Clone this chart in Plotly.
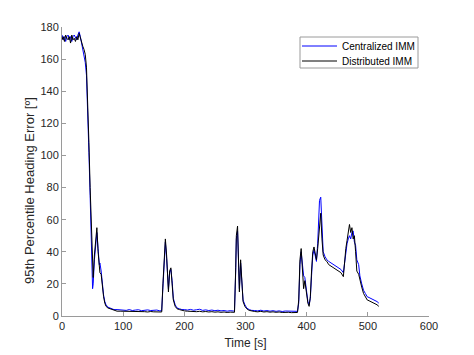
import plotly.graph_objects as go

# Time samples [s]
time_s = [0,2,4,6,8,10,12,14,16,18,20,22,24,26,28,30,32,34,36,38,40,42,44,46,48,50,
          51,53,55,57,59,61,62,64,66,68,70,72,75,78,81,85,90,95,
          100,105,110,115,120,125,130,135,140,145,150,155,160,163,
          165,167,169,171,173,174,176,178,180,182,185,188,192,196,
          200,205,210,215,220,225,230,235,240,245,250,255,260,265,270,275,280,282,
          284,285,287,289,290,292,294,296,299,302,306,310,
          315,320,325,330,335,340,345,350,355,360,365,370,375,380,385,
          387,389,391,393,395,397,400,402,404,406,408,410,412,414,416,418,420,421,423,425,427,430,433,436,440,444,448,452,456,460,
          462,464,466,468,470,472,474,476,478,480,482,485,487,490,493,496,499,502,505,509,512,515,518]

# Centralized IMM (blue)
centralized = [175,172,174,171,174,175,172,174,171,174,175,173,172,175,177,174,170,166,160,158,150,130,102,75,46,17,
               20,35,45,52,42,32,33,28,20,13,9,7,5.5,5,4.5,4,4,3.8,
               3.8,3.5,4,3.4,3.7,3.9,3.3,3.6,3.8,3.4,3.5,3.7,3.2,3.3,
               18,38,46,36,24,17,27,29,22,11,7,5,4.5,4,
               4,3.7,4.1,3.6,3.9,4.2,3.5,3.8,3.4,3.7,3.3,3.6,3.2,3.4,3,3.3,3.1,3.2,
               28,48,53,28,17,33,22,10,7,5,4,3.5,
               3.4,3.2,3.6,3.1,3.4,3,3.3,2.9,3.2,2.8,3.1,3,2.8,3,2.9,
               8,32,40,30,25,24,14,9,7,11,25,38,41,37,34,45,62,72,74,55,40,37,35,34,33,32,31,30,29,27,
               33,40,45,48,50,48,52,53,46,44,35,32,25,20,16,14,12,11.5,11,10.5,10,9,8]

# Distributed IMM (black)
distributed = [172,174,171,175,173,172,174,170,175,172,173,171,174,172,176,173,171,168,166,163,155,135,108,80,52,28,
               24,38,48,55,40,30,27,26,18,12,8,6,5,4.5,4,3.5,3,3,
               3,2.8,3,2.7,2.9,2.6,2.8,2.7,2.5,2.8,2.6,2.4,2.5,2.5,
               20,40,48,38,22,15,28,30,20,10,6,4.5,4,3.5,
               3.2,3,2.8,3,2.7,2.9,2.6,2.8,2.5,2.7,2.4,2.6,2.3,2.5,2.2,2.4,2.2,2.3,
               30,50,56,25,15,35,20,9,6,4.5,3.5,3,
               2.8,2.6,2.9,2.5,2.7,2.4,2.6,2.3,2.5,2.2,2.4,2.3,2.1,2.3,2.2,
               10,35,42,28,17,22,12,8,6,12,28,40,43,38,35,42,50,56,64,48,38,35,34,32,31,30,29,28,27,24.5,
               36,42,47,51,57,52,55,48,50,40,28,26,22,18,14,12,10,9.5,9,8.5,7.5,7,6]

series_names = ["Centralized IMM", "Distributed IMM"]
series_colors = ["#0000ff", "#000000"]

x_ticks = [0, 100, 200, 300, 400, 500, 600]
y_ticks = [0, 20, 40, 60, 80, 100, 120, 140, 160, 180]

W, H = 474, 355
L, R, T, B = 62, 45, 27, 39
PW, PH = W - L - R, H - T - B

def px(x):
    return (x - L) / PW

def py(y):
    return (H - B - y) / PH

fig = go.Figure()
for vals, name, col in zip([centralized, distributed], series_names, series_colors):
    fig.add_trace(go.Scatter(x=time_s, y=vals, mode="lines", name=name,
                             line=dict(color=col, width=1)))

axis_common = dict(showline=True, linecolor="#9a9a9a", linewidth=1, ticks="inside",
                   ticklen=4, tickcolor="#9a9a9a", showgrid=False, zeroline=False,
                   tickfont=dict(family="Liberation Sans, Arial", size=11, color="#262626"),
                   mirror=False, automargin=False)

# manual legend (MATLAB style compact box)
shapes = [dict(type="rect", xref="paper", yref="paper",
               x0=px(300), x1=px(418), y0=py(68), y1=py(37),
               line=dict(color="#9a9a9a", width=1), fillcolor="white", layer="above")]
annotations = []
for i, (name, col) in enumerate(zip(series_names, series_colors)):
    yy = 46 + 15 * i
    shapes.append(dict(type="line", xref="paper", yref="paper",
                       x0=px(302), x1=px(337), y0=py(yy), y1=py(yy),
                       line=dict(color=col, width=1), layer="above"))
    annotations.append(dict(text=name, xref="paper", yref="paper", x=px(339.5), y=py(yy),
                            xanchor="left", yanchor="middle", showarrow=False,
                            font=dict(family="Liberation Sans, Arial", size=10, color="#000000")))

# y-axis title as annotation for exact placement
annotations.append(dict(text="95th Percentile Heading Error [º]", xref="paper", yref="paper",
                        x=px(29), y=py(191), xanchor="center", yanchor="middle", textangle=-90,
                        showarrow=False,
                        font=dict(family="Liberation Sans, Arial", size=13, color="#262626")))

fig.update_layout(
    width=W, height=H,
    margin=dict(l=L, r=R, t=T, b=B),
    paper_bgcolor="white", plot_bgcolor="white",
    font=dict(family="Liberation Sans, Arial", color="#262626"),
    xaxis=dict(range=[0, 600], tickvals=x_ticks,
               title=dict(text="Time [s]", font=dict(size=12), standoff=7), **axis_common),
    yaxis=dict(range=[0, 180], tickvals=y_ticks, **axis_common),
    shapes=shapes,
    annotations=annotations,
    showlegend=False,
)

fig.write_html("out.html", config={"displayModeBar": False},
               post_script="document.body.style.margin='0';document.body.style.padding='0';")
